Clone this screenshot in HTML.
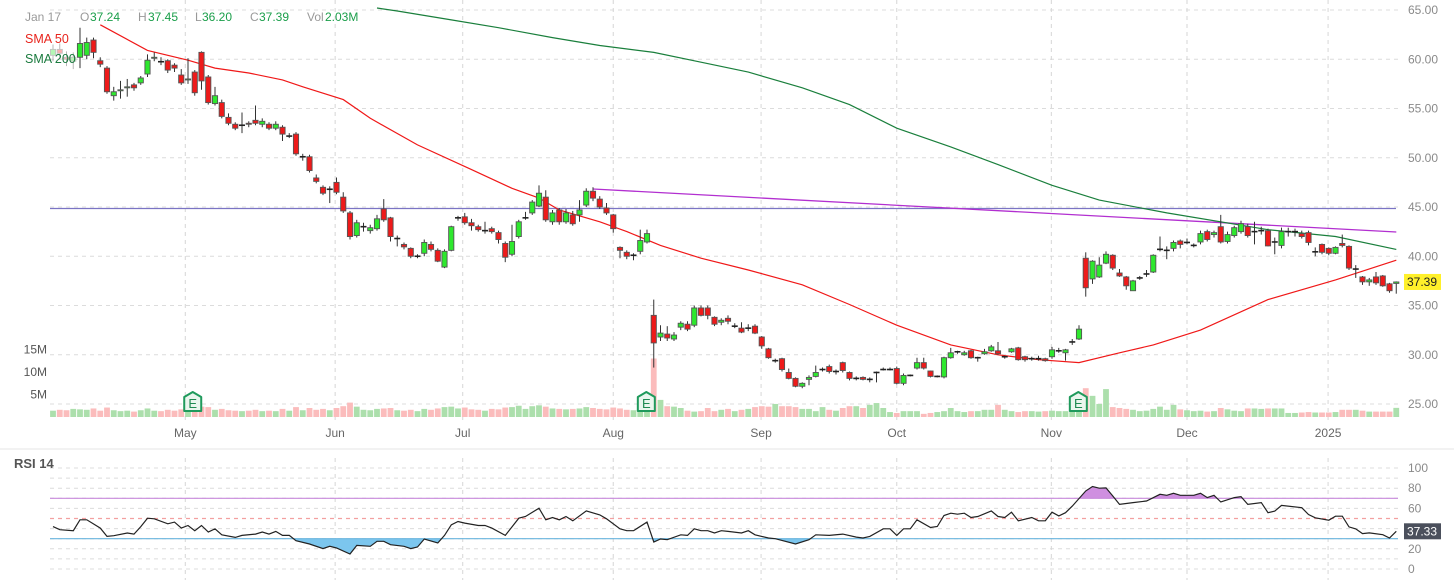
<!DOCTYPE html>
<html><head><meta charset="utf-8">
<style>
html,body{margin:0;padding:0;background:#fff;}
svg{display:block;font-family:"Liberation Sans",sans-serif;}
</style></head>
<body>
<svg id="chart" width="1454" height="586" viewBox="0 0 1454 586" xmlns="http://www.w3.org/2000/svg">
<defs>
<clipPath id="clipMain"><rect x="0" y="0" width="1400" height="420"/></clipPath>
<clipPath id="clipBelow30"><rect x="0" y="539" width="1400" height="40"/></clipPath>
<clipPath id="clipAbove70"><rect x="0" y="440" width="1400" height="58.3"/></clipPath>
</defs>
<g id="grid"></g>
<g id="volume"></g>
<g id="lines" clip-path="url(#clipMain)"></g>
<g id="candles"></g>
<g id="earn"></g>
<g id="rsi"></g>
<g id="axes"></g>
<line x1="0" y1="449" x2="1454" y2="449" stroke="#e6e6e6" stroke-width="1"/>
<g font-size="12">
<text x="25" y="21" fill="#999">Jan 17</text>
<text x="80" y="21" fill="#999">O</text>
<text x="90" y="21" fill="#1a9e4a">37.24</text>
<text x="138" y="21" fill="#999">H</text>
<text x="148" y="21" fill="#1a9e4a">37.45</text>
<text x="195" y="21" fill="#999">L</text>
<text x="202" y="21" fill="#1a9e4a">36.20</text>
<text x="250" y="21" fill="#999">C</text>
<text x="259" y="21" fill="#1a9e4a">37.39</text>
<text x="307" y="21" fill="#999">Vol</text>
<text x="325" y="21" fill="#1a9e4a">2.03M</text>
<text x="25" y="43" fill="#e8231c" font-size="12.5">SMA 50</text>
<text x="25" y="63" fill="#1a7a3e" font-size="12.5">SMA 200</text>
</g>
<text x="14" y="468" font-size="13" fill="#555" font-weight="bold">RSI 14</text>
</svg>
<script>
const opens=[60.4,61.0,60.2,59.8,60.2,60.4,61.95,59.85,59.1,56.3,56.8,57.1,57.4,57.6,58.5,60.1,59.8,59.85,59.4,58.4,57.9,58.7,60.7,58.2,55.5,55.6,54.1,53.4,53.3,53.5,53.8,53.4,53.4,53.0,53.1,52.2,52.4,50.1,50.1,47.95,47.0,46.8,47.5,46.0,44.4,42.1,43.0,42.6,42.8,44.8,43.9,41.8,41.2,40.8,40.0,40.3,41.2,40.6,38.9,40.6,43.9,44.0,43.4,43.0,42.6,42.8,42.4,41.3,40.2,42.0,43.9,44.4,45.1,46.0,43.5,44.7,43.5,44.2,44.2,45.2,46.6,45.8,44.9,44.2,40.9,40.4,40.1,40.5,41.45,34.0,31.8,32.1,31.6,32.8,33.1,33.0,34.75,34.75,33.8,33.3,33.7,32.9,32.7,32.7,32.9,31.8,30.6,29.4,29.6,28.2,27.6,26.8,27.5,27.8,28.5,28.8,28.3,29.2,28.2,27.6,27.7,27.5,28.2,28.5,28.5,28.6,27.1,27.9,28.65,29.2,28.35,27.8,27.75,29.7,30.3,30.0,30.4,29.7,30.1,30.4,30.4,29.8,30.3,30.7,29.8,29.6,29.6,29.6,29.8,30.4,30.2,31.3,31.6,39.8,37.7,37.9,39.3,40.1,38.3,37.9,36.5,37.8,38.2,38.4,40.7,40.6,40.8,41.55,41.4,41.1,41.45,42.5,42.2,43.0,41.5,42.1,42.5,43.0,42.5,42.6,42.6,41.45,41.1,42.5,42.5,42.3,42.4,40.45,41.2,40.8,40.3,41.3,41.0,38.7,37.9,37.4,37.9,38.0,37.2,37.24];
const closes=[61.0,60.6,60.0,60.2,61.6,61.7,60.7,59.5,56.7,56.7,56.9,57.2,57.1,58.1,59.9,60.2,59.75,58.9,59.1,57.6,58.0,56.6,57.8,55.6,56.3,54.2,53.5,53.0,53.3,53.4,53.5,53.7,53.0,53.4,52.4,52.2,50.4,50.1,48.7,47.6,46.4,46.8,46.5,44.6,42.0,43.4,43.0,42.9,43.8,43.7,42.0,41.8,40.95,40.0,40.0,41.4,40.7,39.5,40.5,43.0,43.9,43.4,43.1,42.7,42.6,42.5,41.7,39.9,41.5,43.5,43.9,45.5,46.4,43.7,44.4,43.5,44.4,43.3,44.7,46.6,45.9,45.0,44.4,42.8,40.6,40.0,40.1,41.6,42.3,31.2,32.2,31.7,32.0,33.2,32.6,34.75,34.0,34.0,33.1,33.5,33.4,32.9,32.3,32.7,32.2,30.9,29.7,29.4,28.5,27.6,26.8,27.1,27.7,28.2,28.5,28.3,28.3,28.4,27.6,27.6,27.5,27.5,28.2,28.5,28.5,27.1,27.9,27.9,29.2,28.65,27.8,27.8,29.7,30.2,30.3,30.2,29.7,29.7,30.3,30.8,30.1,29.8,30.6,29.5,29.5,29.6,29.6,29.4,30.5,30.4,30.5,31.3,32.6,36.8,39.5,39.1,40.2,38.8,38.0,37.0,37.5,37.8,38.2,40.1,40.7,40.6,41.4,41.2,41.4,41.1,42.3,41.7,42.4,41.45,42.2,42.9,43.3,42.1,42.5,42.6,41.05,41.45,42.5,42.5,42.5,42.0,41.4,40.45,40.4,40.3,40.9,41.1,38.8,38.7,37.4,37.6,37.3,37.0,36.5,37.39];
const highs=[61.5,61.6,60.8,60.7,63.2,62.2,62.2,60.2,59.3,57.2,57.8,58.0,57.6,58.3,60.5,60.7,60.2,60.0,59.6,59.0,60.1,58.9,60.8,58.4,57.2,55.9,54.5,53.6,54.6,53.7,55.3,54.0,53.6,53.7,53.3,52.5,52.6,50.4,50.3,48.3,47.2,47.1,48.0,46.5,44.6,43.7,43.4,43.2,44.2,45.8,44.0,42.1,41.4,40.9,40.2,41.7,41.5,40.8,40.7,43.1,44.1,44.4,43.8,43.2,43.5,43.0,42.6,41.5,43.2,43.7,44.5,45.7,47.2,46.7,44.7,44.9,44.8,44.6,45.7,46.9,47.0,46.1,45.4,44.3,41.0,40.6,40.3,42.7,42.7,35.6,33.0,32.9,32.3,33.4,33.4,35.0,35.0,35.0,33.9,33.7,34.0,33.2,33.3,33.1,33.1,31.9,30.7,29.6,29.7,28.6,27.7,27.2,27.9,28.9,28.7,29.0,28.5,29.3,28.3,27.8,27.8,27.7,28.3,28.7,28.7,28.8,28.1,28.0,29.7,29.7,28.4,27.9,29.8,30.7,30.4,30.4,30.5,29.8,30.6,31.0,31.3,29.9,30.7,30.8,29.9,29.8,29.9,29.7,30.8,30.7,30.6,31.6,33.0,40.4,39.6,39.9,40.5,40.2,38.7,38.0,37.6,38.0,38.6,40.2,42.0,41.0,41.6,41.7,41.8,41.3,42.6,42.7,42.6,44.2,42.5,43.1,43.6,43.3,43.5,43.0,42.8,41.9,42.9,42.9,42.8,42.6,42.6,40.9,41.3,40.9,41.0,42.2,41.1,39.1,38.0,37.8,38.4,38.1,37.3,37.45];
const lows=[59.8,60.0,59.3,59.0,59.1,60.0,60.1,59.2,56.5,55.8,56.0,56.2,56.8,57.4,58.2,59.8,59.4,58.6,58.7,57.4,57.5,56.3,56.9,55.4,55.3,54.0,53.3,52.8,52.5,53.1,53.3,53.1,52.8,52.8,51.7,52.0,50.2,49.7,48.5,47.4,46.2,45.4,46.3,44.4,41.7,41.9,42.5,42.3,42.6,43.5,41.5,41.0,40.7,39.8,39.8,40.0,40.5,39.4,38.8,40.5,43.6,43.2,42.6,42.5,42.3,42.3,41.3,39.4,40.0,41.8,43.7,44.2,45.0,43.5,43.2,43.2,43.3,43.1,43.5,45.0,45.6,44.8,44.2,42.4,39.8,39.7,39.6,40.2,41.3,28.7,31.4,31.4,31.4,32.5,32.4,32.8,33.9,33.6,32.9,33.0,33.1,32.7,32.2,32.4,32.1,30.6,29.6,29.2,28.3,27.5,26.7,26.6,26.9,27.7,28.3,28.1,28.0,28.2,27.4,27.4,27.4,27.2,27.2,28.4,28.4,27.0,26.9,27.8,28.5,28.5,27.7,27.7,27.6,29.6,30.1,29.9,29.6,29.3,30.0,30.3,30.0,29.6,30.2,29.4,29.3,29.4,29.4,29.3,29.6,30.2,29.4,31.0,31.5,35.9,37.2,37.8,39.2,38.6,37.9,36.6,36.5,37.6,37.9,38.3,40.5,39.7,40.5,40.8,41.2,40.9,41.2,41.5,41.9,41.3,41.3,41.9,42.3,41.9,41.2,42.2,41.0,40.2,40.8,42.0,42.0,41.8,41.1,40.0,40.2,40.1,40.2,40.9,38.6,37.8,37.1,37.0,37.1,36.9,36.3,36.2];
const volumes=[1.4,1.6,1.5,1.8,1.7,1.6,1.9,1.4,2.1,1.5,1.3,1.4,1.2,1.5,1.9,1.4,1.3,1.6,1.4,1.7,1.5,2.0,2.3,2.2,1.6,1.8,1.5,1.4,1.3,1.4,1.6,1.3,1.4,1.3,1.8,1.4,2.2,1.5,2.0,1.6,1.8,1.5,2.0,2.4,3.2,2.3,1.6,1.5,1.8,1.9,2.0,1.5,1.4,1.6,1.3,1.8,1.6,1.9,2.2,2.3,1.9,2.1,1.7,1.6,1.4,1.8,1.7,2.1,2.2,2.5,1.8,2.4,2.6,2.3,1.9,1.8,1.7,1.8,1.9,2.2,2.0,1.8,1.7,2.1,1.9,1.6,1.5,1.8,2.0,13.0,3.8,2.4,2.3,2.0,1.4,1.2,1.3,2.0,1.3,1.6,1.8,1.3,1.6,1.8,2.2,2.4,2.3,2.9,2.4,2.4,2.2,1.8,1.8,1.3,2.2,1.6,1.4,2.0,2.4,2.4,2.0,2.7,3.1,2.0,1.1,0.9,1.3,1.3,1.3,0.7,0.9,1.1,1.3,2.0,1.3,1.1,1.3,1.3,1.6,1.6,2.7,1.6,1.3,1.1,1.3,1.3,1.2,1.3,1.4,1.3,1.3,1.4,1.5,6.4,4.7,2.9,6.2,2.2,2.0,1.8,1.6,1.3,1.4,1.8,2.3,1.6,2.7,1.7,1.5,1.3,1.4,1.2,1.3,2.0,1.7,1.4,1.3,1.9,1.9,1.8,1.9,1.9,1.9,0.9,0.9,1.0,1.1,1.0,1.0,1.0,1.1,1.6,1.6,1.6,1.4,1.2,1.2,1.2,1.2,2.03];
const sma50Idx=[7,14,20,24,29,34,37,43,47,54,62,68,72,75,81,85,90,96,103,111,118,125,133,140,146,152,158,163,170,180,190,199];
const sma50Val=[63.5,60.9,59.9,59.1,58.6,57.9,57.2,55.9,54.0,51.3,48.8,46.9,45.9,44.7,43.5,42.5,41.1,39.8,38.6,37.1,35.1,33.0,31.0,30.0,29.5,29.2,30.2,31.0,32.5,35.6,37.6,39.6];
const sma200Idx=[48,51,59,66,74,81,89,96,103,111,118,125,133,140,148,155,165,180,190,199];
const sma200Val=[65.2,64.9,64.0,63.2,62.2,61.4,60.7,59.7,58.7,57.1,55.4,53.0,51.1,49.3,47.2,45.7,44.4,42.7,42.0,40.7];
const trendIdx=[80,199];
const trendVal=[46.83,42.46];
const hLevel=[44.85];
const rsiIdx=[0,1,3,4,5,7,8,9,11,12,13,14,15,17,18,19,20,21,22,23,24,25,27,28,30,31,32,33,34,35,36,38,40,41,42,44,45,47,48,49,50,52,53,54,55,57,58,59,60,61,63,64,65,67,69,70,72,73,74,75,76,77,79,81,82,84,85,86,88,89,90,91,93,94,95,96,97,98,99,100,102,103,104,106,107,110,112,113,115,117,119,120,121,123,124,125,126,127,128,130,131,132,133,134,135,136,137,139,140,141,142,143,145,146,147,148,149,150,151,153,154,155,156,157,158,160,162,164,165,166,167,169,170,171,172,173,175,176,177,179,180,181,182,185,186,187,189,190,191,192,193,194,195,197,198,199];
const rsiVal=[42,38.9,37.9,48.7,48.7,40.5,32.3,33,35.6,34.6,42,50.3,49.7,44.8,46.4,40.5,43.1,37.9,43.1,36.6,39.8,33.9,31.3,33.3,34.6,36.6,34.6,37.2,33.3,33.3,28,24.8,20.2,22.5,20.8,14.9,23.4,22.5,27.4,27.4,24.1,22.5,20.2,21.8,29.7,25.7,33.3,43.8,47,45.4,43.1,43.1,40.5,33.3,50.3,52,60.2,48.7,51,48.7,52,47.7,57.5,53.6,49.7,39.8,37.9,37.9,46.4,26.7,29.7,29,33.9,33.3,39.8,37.9,37.9,35.6,37.9,37.2,35.6,37.9,33.9,30.7,30,24.8,29,33.9,33.3,34.6,31.6,30.7,32.3,39.8,39.8,33.3,39.8,39.8,48.7,41.1,42.1,53,55.2,54.3,55.2,51,52,57.5,52,51,56.2,47.7,51,47.7,47.7,56.2,52.6,55.7,62.3,77.3,81.7,80,80.3,72.3,64,65.7,67.3,74,73,75,73,73,75,70.7,73,66.3,70.7,71.7,64,65.7,55.7,57.3,63,60.7,54,50.7,48.3,52.3,52.3,41.7,39.7,35,35.7,34,30.7,37.33];
const priceTicks=[65,60,55,50,45,40,35,30,25];
const rsiTicks=[100,80,60,20,0];
const volTicks=[15,10,5];
const monthLabels=['May','Jun','Jul','Aug','Sep','Oct','Nov','Dec','2025'];
const monthIdx=[19.6,41.8,60.7,83,104.9,125,147.9,168,188.9];
const earnIdx=[20.7,87.9,151.9];

const NS='http://www.w3.org/2000/svg';
const xi=i=>53+6.75*i;
const py=p=>10+(65-p)*9.85;
const vy=v=>417-v*4.5;
const ry=r=>569-r*1.01;
function mk(tag,attrs,parent){const e=document.createElementNS(NS,tag);for(const k in attrs)e.setAttribute(k,attrs[k]);parent.appendChild(e);return e;}
const G=id=>document.getElementById(id);

// grid
const grid=G('grid');
for(let k=0;k<priceTicks.length;k++){
  const l=mk('line',{x1:50,x2:1398,y1:py(priceTicks[k]),y2:py(priceTicks[k]),stroke:'#dcdcdc','stroke-dasharray':'4,4'},grid);
  
  
}
for(let r=0;r<=100;r+=10){
  const l=mk('line',{x1:50,x2:1398,y1:ry(r),y2:ry(r),stroke:'#dcdcdc','stroke-dasharray':'4,4'},grid);
  
  
}
for(let k=0;k<monthIdx.length;k++){
  const x=xi(monthIdx[k]);
  const l=mk('line',{x1:x,x2:x,y1:0,y2:420,stroke:'#d6d6d6','stroke-dasharray':'4,4'},grid);
  
  
  const l2=mk('line',{x1:x,x2:x,y1:458,y2:580,stroke:'#d6d6d6','stroke-dasharray':'4,4'},grid);
  
  
}

// volume
const vg=G('volume');
for(let i=0;i<volumes.length;i++){
  const up=closes[i]>=opens[i];
  const r=mk('rect',{x:xi(i)-2.9,y:vy(volumes[i]),width:5.8,height:417-vy(volumes[i]),fill:up?'#acdfac':'#fbbcbc'},vg);
  
  
}

// lines
const lg=G('lines');
const pl=(idx,val)=>idx.map((d,k)=>xi(d).toFixed(1)+','+py(val[k]).toFixed(1)).join(' ');
const hl=mk('line',{x1:50,x2:1396,y1:py(hLevel[0]),y2:py(hLevel[0]),stroke:'#7b74c4','stroke-width':1.3},lg);


const tl=mk('polyline',{points:pl(trendIdx,trendVal),fill:'none',stroke:'#b22fd0','stroke-width':1.3},lg);


const s200=mk('polyline',{points:pl(sma200Idx,sma200Val),fill:'none',stroke:'#1a7f3c','stroke-width':1.2},lg);


const s50=mk('polyline',{points:pl(sma50Idx,sma50Val),fill:'none',stroke:'#f01818','stroke-width':1.2},lg);



// candles
const cg=G('candles');
for(let i=0;i<opens.length;i++){
  const x=xi(i),o=opens[i],c=closes[i];
  const faint=i<4;
  const g=mk('g',{opacity:faint?0.35:1},cg);
  
  
  mk('line',{x1:x,x2:x,y1:py(highs[i]),y2:py(lows[i]),stroke:'#333','stroke-width':1},g);
  if(Math.abs(o-c)<0.05){
    mk('line',{x1:x-3,x2:x+3,y1:py(c),y2:py(c),stroke:'#222','stroke-width':1.6},g);
  }else{
    const top=py(Math.max(o,c)),bot=py(Math.min(o,c));
    mk('rect',{x:x-2.6,y:top,width:5.2,height:Math.max(1,bot-top),fill:c>o?'#2ee82e':'#ee1a1a',stroke:'#555','stroke-width':0.9},g);
  }
}

// earnings
const eg=G('earn');
for(let k=0;k<earnIdx.length;k++){
  const x=xi(earnIdx[k]),y=402;
  const g=mk('g',{},eg);
  
  
  mk('path',{d:`M${x-8.5},${y-5} L${x},${y-10} L${x+8.5},${y-5} L${x+8.5},${y+9} L${x-8.5},${y+9} Z`,fill:'#eaf6ee',stroke:'#1f9a5c','stroke-width':2,'stroke-linejoin':'round'},g);
  const t=mk('text',{x:x,y:y+6,'text-anchor':'middle','font-size':13,fill:'#1f8a52'},g);
  t.textContent='E';
}

// RSI
const rg=G('rsi');
const rpts=rsiIdx.map((d,k)=>xi(d).toFixed(1)+','+ry(rsiVal[k]).toFixed(1));
const x0=xi(rsiIdx[0]),x1=xi(rsiIdx[rsiIdx.length-1]);
const fb=mk('polygon',{points:x0+','+ry(30)+' '+rpts.join(' ')+' '+x1+','+ry(30),fill:'#7cc6ee','clip-path':'url(#clipBelow30)'},rg);


const fa=mk('polygon',{points:x0+','+ry(70)+' '+rpts.join(' ')+' '+x1+','+ry(70),fill:'#cf8fe0','clip-path':'url(#clipAbove70)'},rg);


const l70=mk('line',{x1:50,x2:1398,y1:ry(70),y2:ry(70),stroke:'#c889dc','stroke-width':1.2},rg);


const l50=mk('line',{x1:50,x2:1398,y1:ry(50),y2:ry(50),stroke:'#f3a0a0','stroke-width':1.2,'stroke-dasharray':'4,4'},rg);


const l30=mk('line',{x1:50,x2:1398,y1:ry(30),y2:ry(30),stroke:'#6ab4de','stroke-width':1.2},rg);


const rl=mk('polyline',{points:rpts.join(' '),fill:'none',stroke:'#222','stroke-width':1.2},rg);



// axes
const ag=G('axes');
for(let k=0;k<priceTicks.length;k++){
  const t=mk('text',{x:1408,y:py(priceTicks[k])+4,'font-size':12,fill:'#8a8a8a'},ag);
  
  
  t.textContent=priceTicks[k].toFixed(2);
}
for(let k=0;k<rsiTicks.length;k++){
  const t=mk('text',{x:1408,y:ry(rsiTicks[k])+4,'font-size':12,fill:'#8a8a8a'},ag);
  
  
  t.textContent=rsiTicks[k];
}
for(let k=0;k<volTicks.length;k++){
  const t=mk('text',{x:47,y:vy(volTicks[k])+4,'font-size':12,fill:'#555','text-anchor':'end'},ag);
  
  
  t.textContent=volTicks[k]+'M';
}
for(let k=0;k<monthLabels.length;k++){
  const t=mk('text',{x:xi(monthIdx[k]),y:437,'font-size':12,fill:'#666','text-anchor':'middle'},ag);
  
  
  t.textContent=monthLabels[k];
}
const lastC=closes[closes.length-1];
const pb=mk('g',{},ag);


mk('rect',{x:1404,y:py(lastC)-8,width:37,height:16,fill:'#fff02a'},pb);
const pt=mk('text',{x:1407,y:py(lastC)+4,'font-size':12,fill:'#222'},pb);
pt.textContent=lastC.toFixed(2);
const lastR=rsiVal[rsiVal.length-1];
const rb=mk('g',{},ag);


mk('rect',{x:1404,y:ry(lastR)-8,width:37,height:16,fill:'#4b505c'},rb);
const rt=mk('text',{x:1407,y:ry(lastR)+4,'font-size':12,fill:'#fff'},rb);
rt.textContent=lastR.toFixed(2);
</script>
</body></html>
